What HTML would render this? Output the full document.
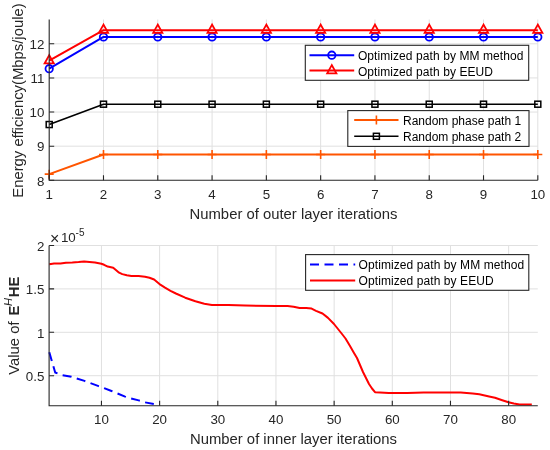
<!DOCTYPE html>
<html><head><meta charset="utf-8"><title>Energy efficiency plots</title>
<style>
html,body{margin:0;padding:0;background:#fff;width:550px;height:450px;overflow:hidden}
svg{display:block}
text{font-family:"Liberation Sans", Arial, Helvetica, sans-serif;fill:#262626}
.tk{font-size:13.33px}
.lb{font-size:14.85px}
.lg{font-size:12px;fill:#000}
</style></head>
<body>
<svg width="550" height="450" viewBox="0 0 550 450">
<rect width="550" height="450" fill="#fff"/>
<line x1="103.49" y1="19.5" x2="103.49" y2="180.3" stroke="#e0e0e0" stroke-width="1"/>
<line x1="157.78" y1="19.5" x2="157.78" y2="180.3" stroke="#e0e0e0" stroke-width="1"/>
<line x1="212.07" y1="19.5" x2="212.07" y2="180.3" stroke="#e0e0e0" stroke-width="1"/>
<line x1="266.36" y1="19.5" x2="266.36" y2="180.3" stroke="#e0e0e0" stroke-width="1"/>
<line x1="320.65" y1="19.5" x2="320.65" y2="180.3" stroke="#e0e0e0" stroke-width="1"/>
<line x1="374.94" y1="19.5" x2="374.94" y2="180.3" stroke="#e0e0e0" stroke-width="1"/>
<line x1="429.23" y1="19.5" x2="429.23" y2="180.3" stroke="#e0e0e0" stroke-width="1"/>
<line x1="483.52" y1="19.5" x2="483.52" y2="180.3" stroke="#e0e0e0" stroke-width="1"/>
<line x1="537.81" y1="19.5" x2="537.81" y2="180.3" stroke="#e0e0e0" stroke-width="1"/>
<line x1="49.2" y1="146.18" x2="537.8" y2="146.18" stroke="#e0e0e0" stroke-width="1"/>
<line x1="49.2" y1="112.05" x2="537.8" y2="112.05" stroke="#e0e0e0" stroke-width="1"/>
<line x1="49.2" y1="77.93" x2="537.8" y2="77.93" stroke="#e0e0e0" stroke-width="1"/>
<line x1="49.2" y1="43.80" x2="537.8" y2="43.80" stroke="#e0e0e0" stroke-width="1"/>
<polyline points="49.20,174.16 103.49,154.47 157.78,154.47 212.07,154.47 266.36,154.47 320.65,154.47 374.94,154.47 429.23,154.47 483.52,154.47 537.81,154.47" fill="none" stroke="#ff5500" stroke-width="2" stroke-linejoin="round" />
<path d="M44.70,174.16H53.70M49.20,169.66V178.66" stroke="#ff5500" stroke-width="1.6" fill="none"/>
<path d="M98.99,154.47H107.99M103.49,149.97V158.97" stroke="#ff5500" stroke-width="1.6" fill="none"/>
<path d="M153.28,154.47H162.28M157.78,149.97V158.97" stroke="#ff5500" stroke-width="1.6" fill="none"/>
<path d="M207.57,154.47H216.57M212.07,149.97V158.97" stroke="#ff5500" stroke-width="1.6" fill="none"/>
<path d="M261.86,154.47H270.86M266.36,149.97V158.97" stroke="#ff5500" stroke-width="1.6" fill="none"/>
<path d="M316.15,154.47H325.15M320.65,149.97V158.97" stroke="#ff5500" stroke-width="1.6" fill="none"/>
<path d="M370.44,154.47H379.44M374.94,149.97V158.97" stroke="#ff5500" stroke-width="1.6" fill="none"/>
<path d="M424.73,154.47H433.73M429.23,149.97V158.97" stroke="#ff5500" stroke-width="1.6" fill="none"/>
<path d="M479.02,154.47H488.02M483.52,149.97V158.97" stroke="#ff5500" stroke-width="1.6" fill="none"/>
<path d="M533.31,154.47H542.31M537.81,149.97V158.97" stroke="#ff5500" stroke-width="1.6" fill="none"/>
<polyline points="49.20,124.54 103.49,104.20 157.78,104.20 212.07,104.20 266.36,104.20 320.65,104.20 374.94,104.20 429.23,104.20 483.52,104.20 537.81,104.20" fill="none" stroke="#000000" stroke-width="1.6" stroke-linejoin="round" />
<rect x="46.20" y="121.54" width="6.0" height="6.0" fill="none" stroke="#000000" stroke-width="1.5"/>
<rect x="100.49" y="101.20" width="6.0" height="6.0" fill="none" stroke="#000000" stroke-width="1.5"/>
<rect x="154.78" y="101.20" width="6.0" height="6.0" fill="none" stroke="#000000" stroke-width="1.5"/>
<rect x="209.07" y="101.20" width="6.0" height="6.0" fill="none" stroke="#000000" stroke-width="1.5"/>
<rect x="263.36" y="101.20" width="6.0" height="6.0" fill="none" stroke="#000000" stroke-width="1.5"/>
<rect x="317.65" y="101.20" width="6.0" height="6.0" fill="none" stroke="#000000" stroke-width="1.5"/>
<rect x="371.94" y="101.20" width="6.0" height="6.0" fill="none" stroke="#000000" stroke-width="1.5"/>
<rect x="426.23" y="101.20" width="6.0" height="6.0" fill="none" stroke="#000000" stroke-width="1.5"/>
<rect x="480.52" y="101.20" width="6.0" height="6.0" fill="none" stroke="#000000" stroke-width="1.5"/>
<rect x="534.81" y="101.20" width="6.0" height="6.0" fill="none" stroke="#000000" stroke-width="1.5"/>
<polyline points="49.20,68.71 103.49,36.98 157.78,36.98 212.07,36.98 266.36,36.98 320.65,36.98 374.94,36.98 429.23,36.98 483.52,36.98 537.81,36.98" fill="none" stroke="#0000ff" stroke-width="2" stroke-linejoin="round" />
<circle cx="49.20" cy="68.71" r="3.7" fill="none" stroke="#0000ff" stroke-width="1.8"/>
<circle cx="103.49" cy="36.98" r="3.7" fill="none" stroke="#0000ff" stroke-width="1.8"/>
<circle cx="157.78" cy="36.98" r="3.7" fill="none" stroke="#0000ff" stroke-width="1.8"/>
<circle cx="212.07" cy="36.98" r="3.7" fill="none" stroke="#0000ff" stroke-width="1.8"/>
<circle cx="266.36" cy="36.98" r="3.7" fill="none" stroke="#0000ff" stroke-width="1.8"/>
<circle cx="320.65" cy="36.98" r="3.7" fill="none" stroke="#0000ff" stroke-width="1.8"/>
<circle cx="374.94" cy="36.98" r="3.7" fill="none" stroke="#0000ff" stroke-width="1.8"/>
<circle cx="429.23" cy="36.98" r="3.7" fill="none" stroke="#0000ff" stroke-width="1.8"/>
<circle cx="483.52" cy="36.98" r="3.7" fill="none" stroke="#0000ff" stroke-width="1.8"/>
<circle cx="537.81" cy="36.98" r="3.7" fill="none" stroke="#0000ff" stroke-width="1.8"/>
<polyline points="49.20,60.69 103.49,30.15 157.78,30.15 212.07,30.15 266.36,30.15 320.65,30.15 374.94,30.15 429.23,30.15 483.52,30.15 537.81,30.15" fill="none" stroke="#ff0000" stroke-width="2" stroke-linejoin="round" />
<polygon points="49.20,55.16 44.60,63.46 53.80,63.46" fill="none" stroke="#ff0000" stroke-width="1.8" stroke-linejoin="miter"/>
<polygon points="103.49,24.62 98.89,32.92 108.09,32.92" fill="none" stroke="#ff0000" stroke-width="1.8" stroke-linejoin="miter"/>
<polygon points="157.78,24.62 153.18,32.92 162.38,32.92" fill="none" stroke="#ff0000" stroke-width="1.8" stroke-linejoin="miter"/>
<polygon points="212.07,24.62 207.47,32.92 216.67,32.92" fill="none" stroke="#ff0000" stroke-width="1.8" stroke-linejoin="miter"/>
<polygon points="266.36,24.62 261.76,32.92 270.96,32.92" fill="none" stroke="#ff0000" stroke-width="1.8" stroke-linejoin="miter"/>
<polygon points="320.65,24.62 316.05,32.92 325.25,32.92" fill="none" stroke="#ff0000" stroke-width="1.8" stroke-linejoin="miter"/>
<polygon points="374.94,24.62 370.34,32.92 379.54,32.92" fill="none" stroke="#ff0000" stroke-width="1.8" stroke-linejoin="miter"/>
<polygon points="429.23,24.62 424.63,32.92 433.83,32.92" fill="none" stroke="#ff0000" stroke-width="1.8" stroke-linejoin="miter"/>
<polygon points="483.52,24.62 478.92,32.92 488.12,32.92" fill="none" stroke="#ff0000" stroke-width="1.8" stroke-linejoin="miter"/>
<polygon points="537.81,24.62 533.21,32.92 542.41,32.92" fill="none" stroke="#ff0000" stroke-width="1.8" stroke-linejoin="miter"/>
<path d="M49.2,19.5V180.3H537.8" fill="none" stroke="#262626" stroke-width="1.1"/>
<path d="M49.20,180.3V175.3M103.49,180.3V175.3M157.78,180.3V175.3M212.07,180.3V175.3M266.36,180.3V175.3M320.65,180.3V175.3M374.94,180.3V175.3M429.23,180.3V175.3M483.52,180.3V175.3M537.81,180.3V175.3M49.2,180.30H54.2M49.2,146.18H54.2M49.2,112.05H54.2M49.2,77.93H54.2M49.2,43.80H54.2" stroke="#262626" stroke-width="1.1" fill="none"/>
<text x="49.20" y="199.2" text-anchor="middle" class="tk">1</text>
<text x="103.49" y="199.2" text-anchor="middle" class="tk">2</text>
<text x="157.78" y="199.2" text-anchor="middle" class="tk">3</text>
<text x="212.07" y="199.2" text-anchor="middle" class="tk">4</text>
<text x="266.36" y="199.2" text-anchor="middle" class="tk">5</text>
<text x="320.65" y="199.2" text-anchor="middle" class="tk">6</text>
<text x="374.94" y="199.2" text-anchor="middle" class="tk">7</text>
<text x="429.23" y="199.2" text-anchor="middle" class="tk">8</text>
<text x="483.52" y="199.2" text-anchor="middle" class="tk">9</text>
<text x="537.81" y="199.2" text-anchor="middle" class="tk">10</text>
<text x="44.3" y="185.50" text-anchor="end" class="tk">8</text>
<text x="44.3" y="151.38" text-anchor="end" class="tk">9</text>
<text x="44.3" y="117.25" text-anchor="end" class="tk">10</text>
<text x="44.3" y="83.13" text-anchor="end" class="tk">11</text>
<text x="44.3" y="49.00" text-anchor="end" class="tk">12</text>
<text x="293.5" y="218.5" text-anchor="middle" class="lb">Number of outer layer iterations</text>
<text transform="translate(23.4,100.55) rotate(-90)" x="0" y="0" text-anchor="middle" class="lb">Energy efficiency(Mbps/joule)</text>
<rect x="305.3" y="45.3" width="223.40000000000003" height="35.0" fill="#fff" stroke="#262626" stroke-width="1.1"/>
<line x1="309.5" y1="55.2" x2="354.2" y2="55.2" stroke="#0000ff" stroke-width="2"/>
<circle cx="331.80" cy="55.20" r="3.7" fill="none" stroke="#0000ff" stroke-width="1.8"/>
<line x1="309.5" y1="70.6" x2="354.2" y2="70.6" stroke="#ff0000" stroke-width="2"/>
<polygon points="331.80,65.07 327.20,73.37 336.40,73.37" fill="none" stroke="#ff0000" stroke-width="1.8" stroke-linejoin="miter"/>
<text x="357.9" y="60" class="lg" letter-spacing="0.08">Optimized path by MM method</text>
<text x="357.9" y="75.8" class="lg" letter-spacing="0.08">Optimized path by EEUD</text>
<rect x="347.8" y="110.6" width="181.2" height="35.80000000000001" fill="#fff" stroke="#262626" stroke-width="1.1"/>
<line x1="354.2" y1="119.9" x2="398.5" y2="119.9" stroke="#ff5500" stroke-width="2"/>
<path d="M371.90,119.90H380.90M376.40,115.40V124.40" stroke="#ff5500" stroke-width="1.6" fill="none"/>
<line x1="354.2" y1="136.3" x2="398.5" y2="136.3" stroke="#000000" stroke-width="1.6"/>
<rect x="373.40" y="133.30" width="6.0" height="6.0" fill="none" stroke="#000000" stroke-width="1.5"/>
<text x="403" y="124.8" class="lg">Random phase path 1</text>
<text x="403" y="141.2" class="lg">Random phase path 2</text>
<line x1="101.45" y1="245.5" x2="101.45" y2="405.7" stroke="#e0e0e0" stroke-width="1"/>
<line x1="159.62" y1="245.5" x2="159.62" y2="405.7" stroke="#e0e0e0" stroke-width="1"/>
<line x1="217.79" y1="245.5" x2="217.79" y2="405.7" stroke="#e0e0e0" stroke-width="1"/>
<line x1="275.96" y1="245.5" x2="275.96" y2="405.7" stroke="#e0e0e0" stroke-width="1"/>
<line x1="334.13" y1="245.5" x2="334.13" y2="405.7" stroke="#e0e0e0" stroke-width="1"/>
<line x1="392.30" y1="245.5" x2="392.30" y2="405.7" stroke="#e0e0e0" stroke-width="1"/>
<line x1="450.47" y1="245.5" x2="450.47" y2="405.7" stroke="#e0e0e0" stroke-width="1"/>
<line x1="508.64" y1="245.5" x2="508.64" y2="405.7" stroke="#e0e0e0" stroke-width="1"/>
<line x1="49.1" y1="375.70" x2="537.8" y2="375.70" stroke="#e0e0e0" stroke-width="1"/>
<line x1="49.1" y1="332.30" x2="537.8" y2="332.30" stroke="#e0e0e0" stroke-width="1"/>
<line x1="49.1" y1="288.90" x2="537.8" y2="288.90" stroke="#e0e0e0" stroke-width="1"/>
<line x1="49.1" y1="245.50" x2="537.8" y2="245.50" stroke="#e0e0e0" stroke-width="1"/>
<polyline points="49.30,352.30 55.20,372.50 62.30,375.30 71.40,376.80 76.40,378.40 84.50,380.90 90.00,382.90 98.60,386.10 103.30,387.80 111.50,391.00 116.90,393.30 125.10,396.60 130.50,398.30 138.70,400.40 144.10,402.20 153.80,403.90" fill="none" stroke="#0000ff" stroke-width="2" stroke-linejoin="round" stroke-dasharray="9 5.5"/>
<polyline points="49.30,264.30 54.10,263.60 60.50,263.50 65.90,262.70 72.30,262.50 78.60,262.10 84.10,261.50 89.50,262.10 95.00,262.60 101.40,263.80 104.10,264.80 107.70,266.60 113.20,267.70 115.90,270.00 119.10,272.70 122.30,274.10 126.80,275.20 131.40,275.90 138.60,276.10 145.00,276.80 149.50,277.70 154.10,279.50 159.50,284.10 165.00,287.70 170.50,290.90 175.90,293.50 185.20,297.70 195.40,301.30 204.30,303.80 211.90,305.00 218.30,304.90 228.50,305.10 245.00,305.60 276.40,306.00 287.60,306.10 293.60,306.80 299.60,308.10 306.20,308.10 311.60,308.60 316.00,310.80 322.50,313.50 328.00,317.90 334.00,324.00 338.00,329.00 342.00,334.00 345.50,338.50 350.00,346.00 354.00,353.00 357.00,358.00 360.00,365.00 363.00,372.00 366.00,378.00 369.00,384.00 372.00,388.50 375.00,392.20 380.00,392.40 388.70,393.00 407.30,393.00 423.60,392.60 440.00,392.50 460.70,392.60 472.70,393.50 479.30,394.30 489.10,396.50 495.00,397.80 501.50,400.00 508.50,402.30 513.80,403.50 519.50,404.40 526.10,404.60 531.80,404.60" fill="none" stroke="#ff0000" stroke-width="2" stroke-linejoin="round" />
<path d="M49.1,245.5V405.7H537.8" fill="none" stroke="#262626" stroke-width="1.1"/>
<path d="M101.45,405.7V400.7M159.62,405.7V400.7M217.79,405.7V400.7M275.96,405.7V400.7M334.13,405.7V400.7M392.30,405.7V400.7M450.47,405.7V400.7M508.64,405.7V400.7M49.1,375.70H54.1M49.1,332.30H54.1M49.1,288.90H54.1M49.1,245.50H54.1" stroke="#262626" stroke-width="1.1" fill="none"/>
<text x="101.45" y="424.2" text-anchor="middle" class="tk">10</text>
<text x="159.62" y="424.2" text-anchor="middle" class="tk">20</text>
<text x="217.79" y="424.2" text-anchor="middle" class="tk">30</text>
<text x="275.96" y="424.2" text-anchor="middle" class="tk">40</text>
<text x="334.13" y="424.2" text-anchor="middle" class="tk">50</text>
<text x="392.30" y="424.2" text-anchor="middle" class="tk">60</text>
<text x="450.47" y="424.2" text-anchor="middle" class="tk">70</text>
<text x="508.64" y="424.2" text-anchor="middle" class="tk">80</text>
<text x="44.3" y="380.90" text-anchor="end" class="tk">0.5</text>
<text x="44.3" y="337.50" text-anchor="end" class="tk">1</text>
<text x="44.3" y="294.10" text-anchor="end" class="tk">1.5</text>
<text x="44.3" y="250.70" text-anchor="end" class="tk">2</text>
<text x="50.0" y="243.8" class="tk" style="font-size:16px">×</text>
<text x="60.9" y="241.6" class="tk">10</text>
<text x="75.6" y="236.2" class="tk" style="font-size:10px">-5</text>
<text x="293.5" y="443.8" text-anchor="middle" class="lb">Number of inner layer iterations</text>
<g transform="translate(19.3,374.8) rotate(-90)"><text x="0" y="0" class="lb">Value of </text><text x="59.3" y="0" class="lb" font-weight="bold">E</text><text x="68.9" y="-7.3" class="lb" style="font-style:italic;font-size:11px">H</text><text x="77.6" y="0" class="lb" font-weight="bold">HE</text></g>
<rect x="305.6" y="254.6" width="223.19999999999993" height="35.70000000000002" fill="#fff" stroke="#262626" stroke-width="1.1"/>
<line x1="310" y1="264.5" x2="355.2" y2="264.5" stroke="#0000ff" stroke-width="2" stroke-dasharray="9 5.5"/>
<line x1="310" y1="280.4" x2="355.2" y2="280.4" stroke="#ff0000" stroke-width="2"/>
<text x="358.6" y="269.3" class="lg" letter-spacing="0.08">Optimized path by MM method</text>
<text x="358.6" y="285.1" class="lg" letter-spacing="0.08">Optimized path by EEUD</text>
</svg>
</body></html>
